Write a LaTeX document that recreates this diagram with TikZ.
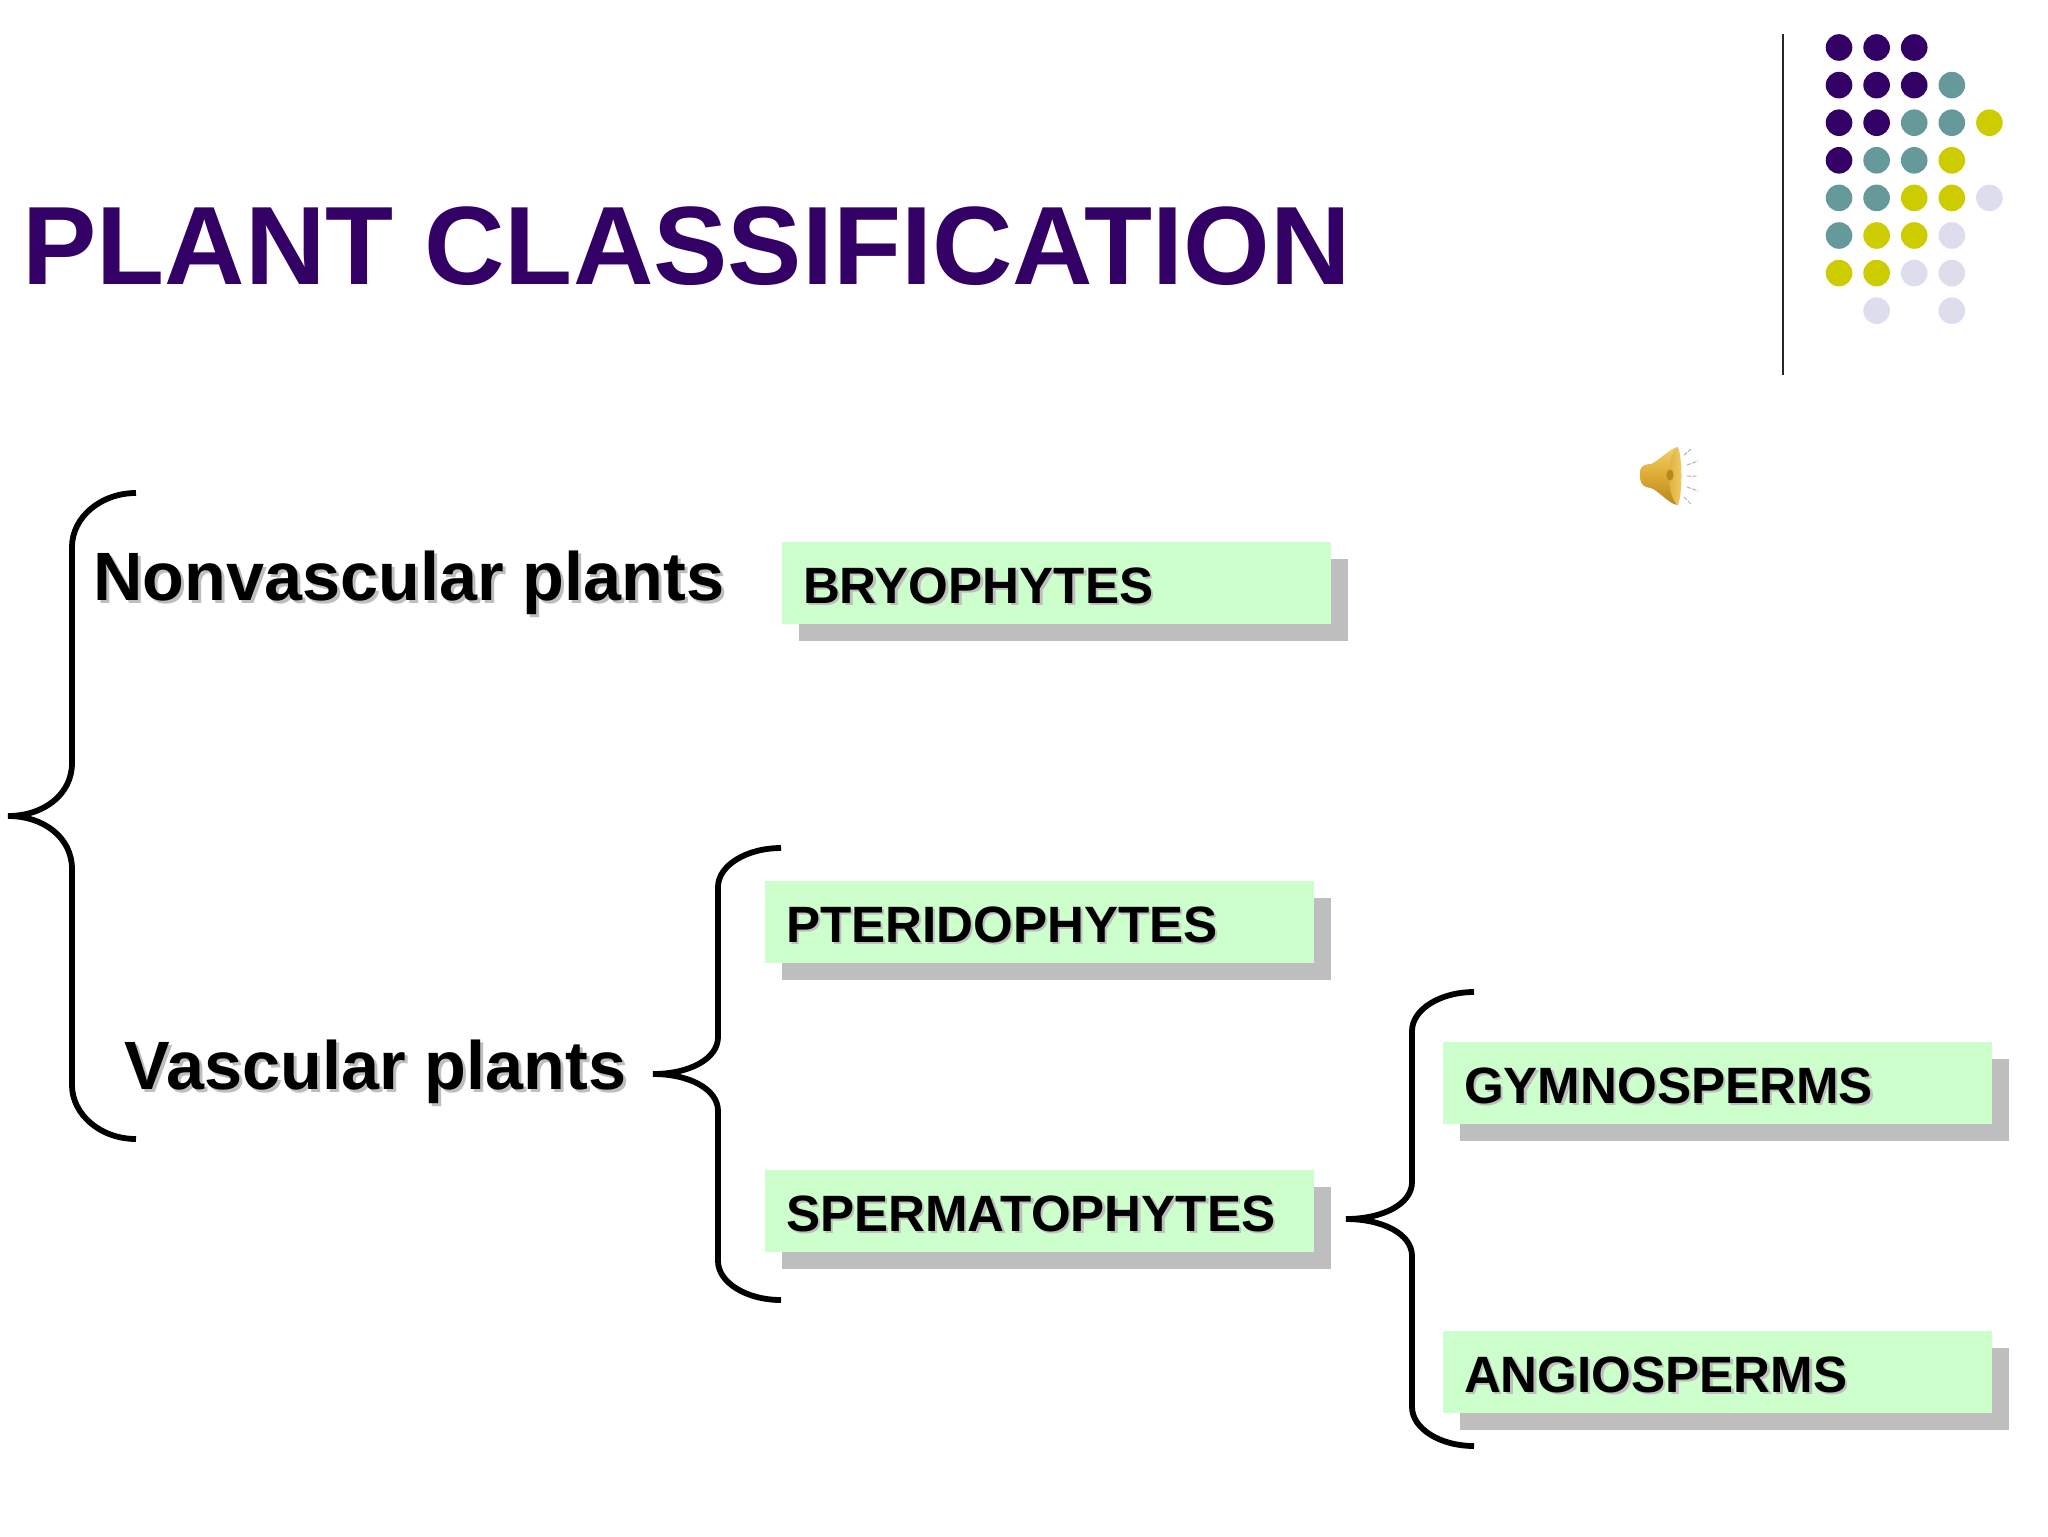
\documentclass[tikz,border=0pt]{standalone}
\usepackage{fontspec}
\setmainfont{Liberation Sans}
\usetikzlibrary{shadows}
\definecolor{titlec}{HTML}{330066}
\definecolor{tealc}{HTML}{669999}
\definecolor{yelc}{HTML}{CCCC00}
\definecolor{lavc}{HTML}{DDDDEE}
\definecolor{boxc}{HTML}{CCFFCC}
\definecolor{shc}{HTML}{BEBEBE}
\definecolor{golddark}{HTML}{B8871E}
\definecolor{goldmid}{HTML}{F0CF6A}
\definecolor{goldlite}{HTML}{DDAA33}
\newcommand{\shadowed}[2]{\rlap{\hspace{#1}\raisebox{-#1}{\textcolor{shc}{#2}}}#2}
\newcommand{\plantbrace}[8]{% name, tipx, tipy, spinex, endx, top, arcT, arcTip
  \coordinate (#1tip) at (#2,#3);
  \coordinate (#1top) at (#5,#6);
  \coordinate (#1bot) at (#5,{2*#3-#6});
  \draw[bracel] (#1top) .. controls ({#4+(#5-#4)*.45},#6) and (#4,{#6+#7*.45}) .. (#4,{#6+#7})
    -- (#4,{#3-#8}) .. controls (#4,{#3-#8*.4}) and ({#4-(#4-#2)*.45},#3) .. (#1tip)
    .. controls ({#4-(#4-#2)*.45},#3) and (#4,{#3+#8*.4}) .. (#4,{#3+#8})
    -- (#4,{2*#3-#6-#7}) .. controls (#4,{2*#3-#6-#7*.45}) and ({#4+(#5-#4)*.45},{2*#3-#6}) .. (#1bot);
}
\tikzset{
  x=0.5pt,y=-0.5pt,
  bracel/.style={draw=black,line width=2.9pt},
  dotn/.style={circle,minimum size=13.3pt,inner sep=0pt,fill=#1},
  plantbox/.style={anchor=north west,fill=boxc,inner xsep=10.5pt,inner ysep=0pt,outer sep=0pt,
    text width=253.5pt,align=left,text height=30.5pt,text depth=10.5pt,
    font=\fontsize{25.55}{25.55}\selectfont\bfseries,
    drop shadow={shadow xshift=8.5pt,shadow yshift=-8.5pt,fill=shc,opacity=1}},
  grouplab/.style={anchor=base west,inner sep=0pt,font=\fontsize{34.2}{34.2}\selectfont\bfseries},
}
\begin{document}
\begin{tikzpicture}
\useasboundingbox (0,0) rectangle (2048,1536);
\fill[white] (0,0) rectangle (2048,1536);
% title
\node[anchor=base west,inner sep=0pt,text=titlec,font=\fontsize{55.7}{55.7}\selectfont\bfseries] (title) at (22,284) {PLANT CLASSIFICATION};
% rule
\coordinate (ruleT) at (1783,34);
\coordinate (ruleB) at (1783,375);
\draw[line width=1pt,black!85] (ruleT) -- (ruleB);
% dots
\foreach \r/\lst in {0/{0/titlec,1/titlec,2/titlec},
  1/{0/titlec,1/titlec,2/titlec,3/tealc},
  2/{0/titlec,1/titlec,2/tealc,3/tealc,4/yelc},
  3/{0/titlec,1/tealc,2/tealc,3/yelc},
  4/{0/tealc,1/tealc,2/yelc,3/yelc,4/lavc},
  5/{0/tealc,1/yelc,2/yelc,3/lavc},
  6/{0/yelc,1/yelc,2/lavc,3/lavc},
  7/{1/lavc,3/lavc}}{
  \foreach \c/\col in \lst {
    \node[dotn=\col] (dot\r\c) at ({1839+\c*37.6},{47.5+\r*37.6}) {};
  }
}
% speaker
\begin{scope}
\shade[top color=goldmid,bottom color=golddark,middle color=goldlite]
  (1640,472) .. controls (1640,466) and (1645,464) .. (1651,464)
  .. controls (1660,460) and (1668,450) .. (1677,447)
  .. controls (1682,447) and (1681,505) .. (1677,505)
  .. controls (1668,503) and (1660,492) .. (1651,488)
  .. controls (1645,488) and (1640,484) .. (1640,478) -- cycle;
\shade[left color=goldlite,right color=goldmid] (1677,447) .. controls (1666,460) and (1666,492) .. (1677,505) .. controls (1683,500) and (1683,452) .. (1677,447) -- cycle;
\fill[golddark] (1670,475) ellipse (3.5 and 5.5);
\draw[black!30,line width=.5pt,dashed,dash pattern=on 2pt off .7pt]
  (1684,455) -- (1691,449) (1687,465) -- (1698,461) (1687,476) -- (1698,476)
  (1687,487) -- (1698,491) (1684,497) -- (1691,504);
\end{scope}
% boxes
\node[plantbox] (bry) at (782,542) {\shadowed{1.2pt}{BRYOPHYTES}};
\node[plantbox] (pte) at (765,881) {\shadowed{1.2pt}{PTERIDOPHYTES}};
\node[plantbox] (spe) at (765,1170) {\shadowed{1.2pt}{SPERMATOPHYTES}};
\node[plantbox] (gym) at (1443,1042) {\shadowed{1.2pt}{GYMNOSPERMS}};
\node[plantbox] (ang) at (1443,1331) {\shadowed{1.2pt}{ANGIOSPERMS}};
% labels
\node[grouplab] (nonv) at (93,600) {\shadowed{1.5pt}{Nonvascular plants}};
\node[grouplab] (vasc) at (124,1089) {\shadowed{1.5pt}{Vascular plants}};
% braces
\plantbrace{bA}{8}{816}{72}{136}{493}{54}{53}
\plantbrace{bB}{653}{1074}{718}{781}{848}{39}{37}
\plantbrace{bC}{1346}{1219}{1412}{1474}{992}{39}{37}
\end{tikzpicture}
\end{document}
